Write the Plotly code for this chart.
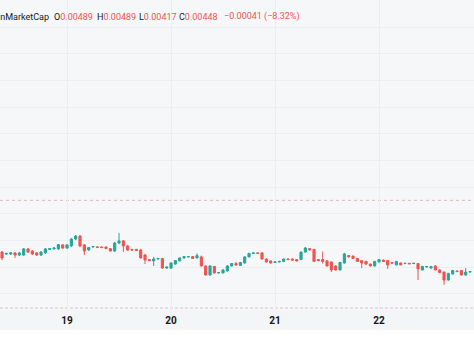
import pandas as pd
import plotly.graph_objects as go

start_time = "2024-01-18 09:00"
day_ticks = ["2024-01-19", "2024-01-20", "2024-01-21", "2024-01-22"]
day_labels = ["19", "20", "21", "22"]

open_ = [0.004556, 0.004549, 0.004549, 0.004553, 0.004545, 0.004545, 0.004568, 0.004560, 0.004553, 0.004545,
         0.004553, 0.004566, 0.004568, 0.004568, 0.004583, 0.004571, 0.004579, 0.004605, 0.004616, 0.004583,
         0.004564, 0.004575, 0.004575, 0.004575, 0.004575, 0.004569, 0.004560, 0.004590, 0.004598, 0.004579,
         0.004566, 0.004566, 0.004564, 0.004545, 0.004528, 0.004523, 0.004530, 0.004532, 0.004496, 0.004496,
         0.004511, 0.004523, 0.004534, 0.004538, 0.004539, 0.004534, 0.004538, 0.004504, 0.004470, 0.004502,
         0.004478, 0.004478, 0.004485, 0.004504, 0.004513, 0.004506, 0.004515, 0.004538, 0.004551, 0.004553,
         0.004553, 0.004530, 0.004523, 0.004517, 0.004519, 0.004521, 0.004530, 0.004530, 0.004528, 0.004528,
         0.004556, 0.004569, 0.004566, 0.004528, 0.004528, 0.004523, 0.004519, 0.004504, 0.004489, 0.004515,
         0.004543, 0.004541, 0.004532, 0.004524, 0.004521, 0.004511, 0.004504, 0.004519, 0.004526, 0.004524,
         0.004517, 0.004508, 0.004515, 0.004513, 0.004514, 0.004513, 0.004513, 0.004489, 0.004500, 0.004496,
         0.004504, 0.004489, 0.004481, 0.004451, 0.004474, 0.004485, 0.004487, 0.004470, 0.004481]
high = [0.004560, 0.004553, 0.004556, 0.004556, 0.004556, 0.004571, 0.004571, 0.004564, 0.004556, 0.004560,
        0.004571, 0.004571, 0.004575, 0.004586, 0.004586, 0.004586, 0.004609, 0.004620, 0.004620, 0.004586,
        0.004575, 0.004579, 0.004577, 0.004577, 0.004577, 0.004571, 0.004594, 0.004628, 0.004601, 0.004583,
        0.004568, 0.004568, 0.004568, 0.004549, 0.004530, 0.004538, 0.004534, 0.004534, 0.004502, 0.004517,
        0.004526, 0.004536, 0.004541, 0.004541, 0.004541, 0.004551, 0.004543, 0.004506, 0.004506, 0.004504,
        0.004481, 0.004491, 0.004506, 0.004515, 0.004519, 0.004519, 0.004539, 0.004553, 0.004554, 0.004554,
        0.004554, 0.004532, 0.004524, 0.004521, 0.004523, 0.004532, 0.004532, 0.004532, 0.004530, 0.004558,
        0.004575, 0.004571, 0.004568, 0.004530, 0.004558, 0.004524, 0.004521, 0.004506, 0.004519, 0.004553,
        0.004545, 0.004543, 0.004534, 0.004526, 0.004523, 0.004513, 0.004523, 0.004530, 0.004528, 0.004526,
        0.004519, 0.004523, 0.004517, 0.004515, 0.004515, 0.004515, 0.004515, 0.004504, 0.004504, 0.004504,
        0.004506, 0.004491, 0.004483, 0.004478, 0.004489, 0.004487, 0.004489, 0.004496, 0.004485]
low = [0.004526, 0.004545, 0.004545, 0.004534, 0.004541, 0.004541, 0.004553, 0.004545, 0.004541, 0.004541,
       0.004549, 0.004564, 0.004566, 0.004564, 0.004568, 0.004568, 0.004575, 0.004601, 0.004575, 0.004545,
       0.004560, 0.004573, 0.004571, 0.004571, 0.004568, 0.004558, 0.004556, 0.004586, 0.004556, 0.004560,
       0.004560, 0.004560, 0.004532, 0.004511, 0.004523, 0.004504, 0.004528, 0.004494, 0.004494, 0.004494,
       0.004509, 0.004521, 0.004532, 0.004536, 0.004530, 0.004532, 0.004502, 0.004468, 0.004468, 0.004476,
       0.004476, 0.004476, 0.004483, 0.004502, 0.004504, 0.004504, 0.004513, 0.004536, 0.004549, 0.004549,
       0.004528, 0.004517, 0.004513, 0.004515, 0.004517, 0.004519, 0.004526, 0.004524, 0.004521, 0.004526,
       0.004554, 0.004562, 0.004519, 0.004523, 0.004513, 0.004502, 0.004481, 0.004487, 0.004487, 0.004513,
       0.004536, 0.004530, 0.004519, 0.004496, 0.004509, 0.004502, 0.004502, 0.004517, 0.004519, 0.004493,
       0.004513, 0.004506, 0.004506, 0.004511, 0.004511, 0.004511, 0.004451, 0.004487, 0.004498, 0.004494,
       0.004487, 0.004478, 0.004433, 0.004449, 0.004472, 0.004481, 0.004468, 0.004468, 0.004479]
close = [0.004534, 0.004551, 0.004553, 0.004545, 0.004553, 0.004568, 0.004556, 0.004549, 0.004545, 0.004556,
         0.004568, 0.004569, 0.004571, 0.004584, 0.004571, 0.004583, 0.004605, 0.004616, 0.004579, 0.004560,
         0.004573, 0.004577, 0.004574, 0.004573, 0.004569, 0.004560, 0.004590, 0.004598, 0.004579, 0.004564,
         0.004564, 0.004562, 0.004534, 0.004526, 0.004524, 0.004530, 0.004532, 0.004496, 0.004500, 0.004515,
         0.004524, 0.004534, 0.004539, 0.004539, 0.004532, 0.004543, 0.004504, 0.004470, 0.004504, 0.004478,
         0.004479, 0.004489, 0.004504, 0.004513, 0.004508, 0.004517, 0.004538, 0.004551, 0.004553, 0.004551,
         0.004530, 0.004519, 0.004515, 0.004519, 0.004521, 0.004530, 0.004528, 0.004526, 0.004523, 0.004556,
         0.004571, 0.004564, 0.004521, 0.004524, 0.004521, 0.004504, 0.004489, 0.004489, 0.004517, 0.004549,
         0.004538, 0.004532, 0.004521, 0.004515, 0.004511, 0.004504, 0.004521, 0.004528, 0.004521, 0.004508,
         0.004515, 0.004521, 0.004508, 0.004514, 0.004512, 0.004514, 0.004493, 0.004502, 0.004502, 0.004502,
         0.004489, 0.004479, 0.004451, 0.004476, 0.004487, 0.004483, 0.004470, 0.004481, 0.004483]

ref_line = 0.00475
base_line = 0.004346
source_name = "CoinMarketCap"
header_keys = ["O", "H", "L", "C"]
header_vals = ["0.00489", "0.00489", "0.00417", "0.00448"]
header_change = "\u22120.00041 (\u22128.32%)"

times = pd.date_range(start=start_time, periods=len(open_), freq="h")

UP = "#26a69a"
DOWN = "#ef5350"
DARK = "#131722"
W, H, PLOT_H = 474, 355, 310

fig = go.Figure()
fig.add_trace(go.Candlestick(
    x=times, open=open_, high=high, low=low, close=close,
    increasing=dict(line=dict(color=UP, width=1), fillcolor=UP),
    decreasing=dict(line=dict(color=DOWN, width=1), fillcolor=DOWN),
    whiskerwidth=0, showlegend=False, hoverinfo="skip",
))

x0 = pd.Timestamp("2024-01-18 08:32")
x1 = pd.Timestamp("2024-01-22 21:55")

fig.add_shape(type="line", xref="paper", x0=0, x1=1, yref="y", y0=ref_line, y1=ref_line,
              line=dict(color="#e2b6b8", width=1, dash="dot"), layer="below")
fig.add_shape(type="line", xref="paper", x0=0, x1=1, yref="y", y0=base_line, y1=base_line,
              line=dict(color="#dcc4c6", width=1, dash="3px,2px"), layer="below")
fig.add_shape(type="rect", xref="paper", x0=0, x1=1, yref="paper", y0=-20 / PLOT_H, y1=0,
              fillcolor="#f4f5f7", line=dict(width=0), layer="below")

hfont = dict(family="Roboto", size=9, color=DARK)
ytop = 1 - 17 / PLOT_H
fig.add_annotation(text=source_name, xref="paper", yref="paper", x=-15.5 / W, y=ytop,
                   xanchor="left", yanchor="middle", showarrow=False, font=hfont)
group_x = [52, 95, 137, 177]
for gx, k, v in zip(group_x, header_keys, header_vals):
    fig.add_annotation(text=f"<span style='color:{DARK}'>{k}</span><span style='color:{DOWN}'>{v}</span>",
                       xref="paper", yref="paper", x=gx / W, y=ytop, xanchor="left", yanchor="middle",
                       showarrow=False, font=hfont)
fig.add_annotation(text=header_change, xref="paper", yref="paper", x=222 / W, y=ytop,
                   xanchor="left", yanchor="middle", showarrow=False,
                   font=dict(family="Roboto", size=9, color=DOWN))

fig.update_layout(
    width=W, height=H,
    margin=dict(l=0, r=0, t=0, b=H - PLOT_H),
    paper_bgcolor="#ffffff", plot_bgcolor="#f6f7f9",
    xaxis=dict(type="date", range=[x0, x1], rangeslider=dict(visible=False),
               tickvals=pd.to_datetime(day_ticks), ticktext=day_labels,
               showgrid=True, gridcolor="#eceef2", gridwidth=1, zeroline=False,
               showline=False, ticks="", ticklabelstandoff=3,
               tickfont=dict(family="Roboto", size=10, color=DARK, weight="bold"),
               fixedrange=True),
    yaxis=dict(range=[0.0043388, 0.0055013], tick0=0.0044, dtick=0.0001, showgrid=True,
               gridcolor="#eceef2", gridwidth=1, zeroline=False, showticklabels=False, ticks="",
               showline=False, fixedrange=True),
)

fig.write_html("out.html", config={"displayModeBar": False},
               post_script="document.body.style.margin='0px';document.body.style.padding='0px';")
